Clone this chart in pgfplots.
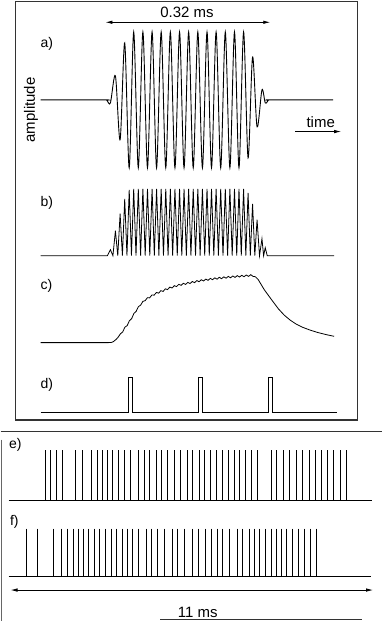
\documentclass[border=0pt]{standalone}
\usepackage{fontspec}
\setmainfont{Liberation Sans}
\usepackage{pgfplots}
\pgfplotsset{compat=1.18}
\usetikzlibrary{arrows.meta}
\begin{document}
\begin{tikzpicture}
\begin{axis}[scale only axis, width=382pt, height=622pt,
  xmin=0, xmax=382, ymin=0, ymax=622, y dir=reverse,
  hide axis, clip=false]
\fill[white] (axis cs:0,0) rectangle (axis cs:382,622);
% frames
\draw[black!80, line width=1.1pt] (axis cs:15,1.5) rectangle (axis cs:357,420.5);
\draw[black!80, line width=1.1pt] (axis cs:0,432) -- (axis cs:382,432);
\draw[black!60, line width=1.4pt] (axis cs:1,440) -- (axis cs:1,622);
\draw[black!80, line width=1.1pt] (axis cs:160,620.5) -- (axis cs:362,620.5);
% a) carrier burst
\addplot[black, line width=0.9pt, smooth, tension=0.5] coordinates {
(40,100)(104,100)(106.5,100.5)(110,103)(115,76)(119.7,140)(124.3,43)(128.8,168)(133.3,32)
(137.9,168)(142.5,32)(147.1,168)(151.7,32)(156.2,168)(160.8,32)(165.4,168)(170,32)
(174.6,168)(179.2,32)(183.7,168)(188.3,32)(192.9,168)(197.5,32)(202.1,168)(206.7,32)
(211.2,168)(215.8,32)(220.4,168)(225,32)(229.6,168)(234.2,32)(238.7,168)(243.3,32)
(247.8,158)(252.3,57)(256.8,127)(261.7,90)(265,103)(268,100.5)(270,100)(333,100)};
% b) rectified
\addplot[black, line width=0.8pt] coordinates {
(40,256)(107,256)(110,250)(112.5,256)(115,231)(117.35,256)(119.7,214)(122,256)
(124.3,199)(126.55,256)(128.8,190)(131.05,256)(133.3,189)(135.6,256)(137.9,189)(140.2,256)
(142.5,189)(144.8,256)(147.1,189)(149.4,256)(151.7,189)(153.95,256)(156.2,189)(158.5,256)
(160.8,189)(163.1,256)(165.4,189)(167.7,256)(170,189)(172.3,256)(174.6,189)(176.9,256)
(179.2,189)(181.45,256)(183.7,189)(186,256)(188.3,189)(190.6,256)(192.9,189)(195.2,256)
(197.5,189)(199.8,256)(202.1,189)(204.4,256)(206.7,189)(208.95,256)(211.2,189)(213.5,256)
(215.8,189)(218.1,256)(220.4,189)(222.7,256)(225,189)(227.3,256)(229.6,189)(231.9,256)
(234.2,189)(236.45,256)(238.7,189)(241,256)(243.3,189)(245.55,256)(247.8,193)(250.05,256)
(252.3,204)(254.55,256)(256.8,220)(259.25,256)(261.7,239)(263.35,256)(265,248)(267,256)(334,256)};
% c) smoothed
\addplot[black, line width=0.8pt] coordinates {
(40,343)(108,343)(111,342.8)(113,342)(116,339.5)(118,337.2)
(120,334.2)(122.25,332.4)(124.5,327.5)(126.75,326.0)(129,321.1)(131.25,319.0)(133.5,313.8)(135.75,311.7)
(138,307.0)(140.25,305.5)(142.5,301.7)(144.75,301.0)(147,298.0)(149.25,298.2)(151.5,295.3)(153.75,295.5)
(156,292.8)(158.25,293.5)(160.5,291.0)(162.75,291.7)(165,289.2)(167.25,289.9)(169.5,287.4)(171.75,288.3)
(174,286.0)(176.25,286.9)(178.5,284.65)(180.75,285.65)(183,283.6)(185.25,284.75)(187.5,282.7)(189.75,283.85)
(192,281.8)(194.25,282.95)(196.5,280.9)(198.75,282.05)(201,280.05)(203.25,281.3)(205.5,279.4)(207.75,280.65)
(210,278.7)(212.25,280.0)(214.5,278.15)(216.75,279.5)(219,277.6)(221.25,279.0)(223.5,277.15)(225.75,278.5)
(228,276.7)(230.25,278.1)(232.5,276.3)(234.75,277.7)(237,275.95)(239.25,277.35)(241.5,275.6)(243.75,277.05)
(246,275.3)(248.25,276.7)(250.5,275.0)(252.75,276.7)
(255,277)(258,280)(261,285)(264,290)(268,295.5)(272,301)(278,309)(284,315.5)(290,320.5)
(296,324.5)(302,327.5)(310,330.5)(318,333)(326,335)(334,336.7)};
% d) pulses
\addplot[black, line width=0.9pt] coordinates {
(40,412.7)(128.5,412.7)(128.5,377.7)(132.5,377.7)(132.5,412.7)(198,412.7)(198,377.7)(202,377.7)
(202,412.7)(268,412.7)(268,377.7)(272,377.7)(272,412.7)(337,412.7)};
% e) spike train
\addplot[black, line width=0.8pt] coordinates {(8,500.7)(372,500.7)};
\addplot[only marks, mark=|, mark size=25pt, mark options={black, line width=0.9pt}] coordinates {
(45,475.7)(50,475.7)(55.7,475.7)(61.7,475.7)(74.7,475.7)(81.7,475.7)(90.7,475.7)(96.7,475.7)
(101.7,475.7)(106.7,475.7)(112.3,475.7)(118.3,475.7)(124,475.7)(130,475.7)(138.3,475.7)(144,475.7)
(149.3,475.7)(155.7,475.7)(161,475.7)(167,475.7)(174,475.7)(180,475.7)(186.7,475.7)(192.3,475.7)
(199,475.7)(204.3,475.7)(210,475.7)(216,475.7)(222.3,475.7)(227.7,475.7)(233.7,475.7)(239,475.7)
(245,475.7)(251,475.7)(257,475.7)(270.7,475.7)(276.7,475.7)(283.3,475.7)(289.3,475.7)(296,475.7)
(302.3,475.7)(309,475.7)(315.3,475.7)(321.7,475.7)(327.7,475.7)(333.3,475.7)(340,475.7)(346,475.7)};
% f) spike train
\addplot[black, line width=0.8pt] coordinates {(8,577.3)(371,577.3)};
\addplot[only marks, mark=|, mark size=24pt, mark options={black, line width=0.9pt}] coordinates {
(25.7,553.3)(37.3,553.3)(53.3,553.3)(60.7,553.3)(67.3,553.3)(72.7,553.3)(77.7,553.3)(83.3,553.3)
(88.3,553.3)(94,553.3)(99.3,553.3)(105,553.3)(110.7,553.3)(116,553.3)(121.7,553.3)(126.8,553.3)
(131.7,553.3)(138.3,553.3)(145.7,553.3)(151,553.3)(157.3,553.3)(164.3,553.3)(171.7,553.3)(177.3,553.3)
(184.3,553.3)(191.7,553.3)(198.3,553.3)(205,553.3)(211,553.3)(216.7,553.3)(222.3,553.3)(229,553.3)
(236.7,553.3)(242.3,553.3)(249,553.3)(254.3,553.3)(259.3,553.3)(265,553.3)(270.7,553.3)(276,553.3)
(281,553.3)(286.7,553.3)(292.3,553.3)(298.3,553.3)(304.3,553.3)(310,553.3)(316.7,553.3)};
% arrows
\draw[black, line width=0.8pt, {Latex[length=7pt,width=3.5pt]}-{Latex[length=7pt,width=3.5pt]}]
  (axis cs:105,22.3) -- (axis cs:270,22.3);
\draw[black, line width=0.8pt, -{Latex[length=7pt,width=3.5pt]}]
  (axis cs:295,131.7) -- (axis cs:341,131.7);
\draw[black, line width=0.8pt, {Latex[length=7pt,width=3.5pt]}-{Latex[length=7pt,width=3.5pt]}]
  (axis cs:10,590.7) -- (axis cs:373,590.7);
% texts
\node[inner sep=0pt, font=\fontsize{15}{18}\selectfont] at (axis cs:186.7,12.8) {0.32 ms};
\node[inner sep=0pt, font=\fontsize{15}{18}\selectfont] at (axis cs:320.5,122) {time};
\node[inner sep=0pt, font=\fontsize{15}{18}\selectfont, rotate=90] at (axis cs:30.5,110) {amplitude};
\node[inner sep=0pt, font=\fontsize{15}{18}\selectfont] at (axis cs:197.5,612.8) {11 ms};
\node[inner sep=0pt, anchor=west, font=\fontsize{14}{17}\selectfont] at (axis cs:40,43.5) {a)};
\node[inner sep=0pt, anchor=west, font=\fontsize{14}{17}\selectfont] at (axis cs:40,203.3) {b)};
\node[inner sep=0pt, anchor=west, font=\fontsize{14}{17}\selectfont] at (axis cs:40,286) {c)};
\node[inner sep=0pt, anchor=west, font=\fontsize{14}{17}\selectfont] at (axis cs:40,385.3) {d)};
\node[inner sep=0pt, anchor=west, font=\fontsize{14}{17}\selectfont] at (axis cs:8.3,445.7) {e)};
\node[inner sep=0pt, anchor=west, font=\fontsize{14}{17}\selectfont] at (axis cs:9.3,522) {f)};
\end{axis}
\end{tikzpicture}
\end{document}
